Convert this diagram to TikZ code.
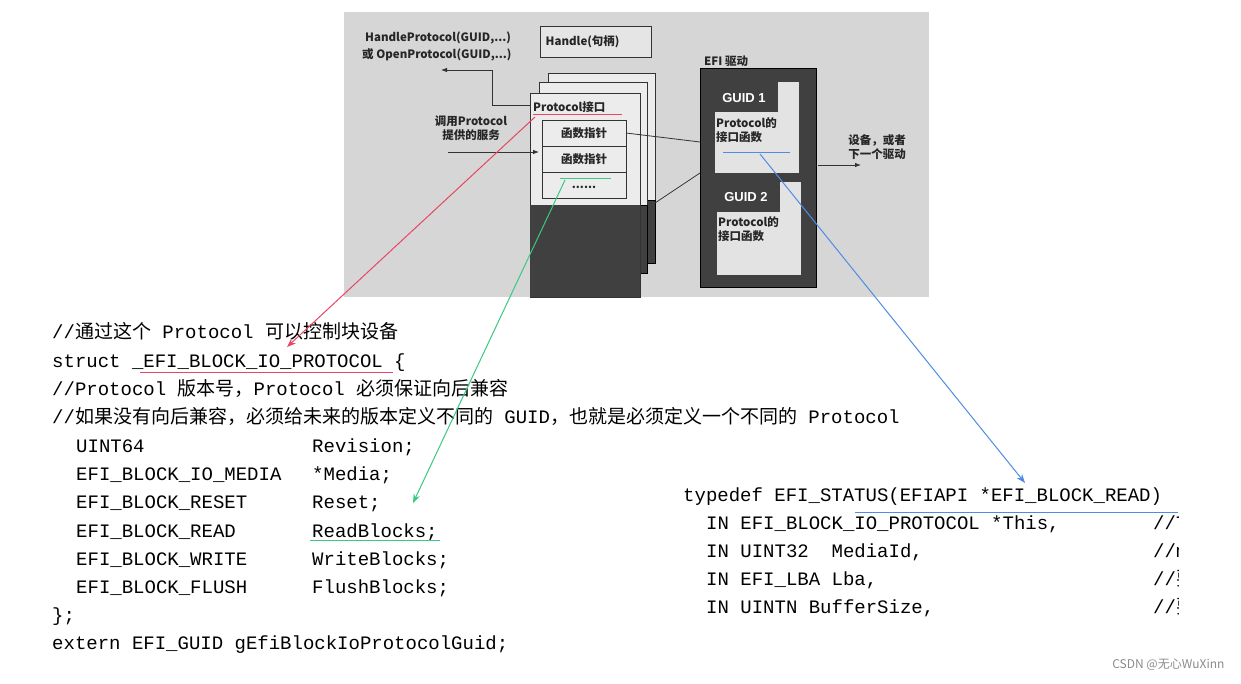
\documentclass[tikz,border=0pt]{standalone}
\usepackage{fontspec}
\setmainfont{Liberation Sans}
\setmonofont{Liberation Mono}
\newfontfamily\cjk{Noto Sans CJK SC}
\usetikzlibrary{arrows.meta}
\begin{document}
\begin{tikzpicture}[x=1pt,y=-1pt,
  code/.style={anchor=base west,inner sep=0pt,font=\fontsize{19}{21}\ttfamily},
  ph/.style={font=\fontsize{11.5}{13.5}\selectfont\bfseries\cjk,inner sep=0pt,align=left,text=black!85},
  card/.style={draw=black!80,fill=gray!15,line width=0.8pt},
  dark/.style={fill=black!75},
  thin/.style={draw=black!80,line width=0.8pt},
  red/.style={draw={rgb,255:red,232;green,70;blue,100},line width=1pt},
  grn/.style={draw={rgb,255:red,60;green,200;blue,130},line width=1pt},
  blu/.style={draw={rgb,255:red,80;green,140;blue,230},line width=1pt}]
\useasboundingbox[fill=white] (0,0) rectangle (1241,683);
% photo
\fill[gray!32] (344,12) rectangle (929,297);
\node[ph,anchor=west] (hp) at (365,38) {HandleProtocol(GUID,...)};
\node[ph,anchor=west] (op) at (362,55) {或 OpenProtocol(GUID,...)};
\node[draw=black!80,fill=gray!20,minimum width=111pt,minimum height=31pt,ph,anchor=north west,text width=100pt] (hd) at (540,26) {Handle(句柄)};
\draw[card] (548,73) rectangle (655,263);
\draw[dark] (548,200) rectangle (655,263);
\draw[card] (539,82) rectangle (647,273);
\draw[dark] (539,205) rectangle (647,273);
\draw[card] (530,93) rectangle (640,297);
\fill[black!75] (530,205) rectangle (640,297);
\node[ph,anchor=west] (pi) at (533,107) {Protocol接口};
\coordinate (pl) at (530,105);
\coordinate (hpend) at (441,70);
\draw[thin,-{Latex[length=6pt]}] (pl) -- (492,105) -- (492,70) -- (hpend);
\draw[thin] (542,120) rectangle (626,198);
\draw[thin] (542,146) -- (626,146) (542,172) -- (626,172);
\node[ph] (f1) at (584,133) {函数指针};
\node[ph] (f2) at (584,159) {函数指针};
\node[ph] (f3) at (584,187) {......};
\node[ph,align=center] (call) at (471,128) {调用Protocol\\提供的服务};
\coordinate (cs) at (448,152);
\draw[thin,-{Latex[length=6pt]}] (cs) -- (539,152);
\node[ph,anchor=west] (efi) at (704,61) {EFI 驱动};
\draw[dark] (700,68) rectangle (816,287);
\fill[gray!22] (715,82) rectangle (799,173);
\fill[black!75] (715,82) rectangle (778,112);
\fill[gray!22] (717,182) rectangle (801,275);
\fill[black!75] (717,182) rectangle (780,212);
\node[ph,text=white,font=\fontsize{13}{15}\selectfont\bfseries] (g1) at (744,98) {GUID 1};
\node[ph,text=white,font=\fontsize{13}{15}\selectfont\bfseries] (g2) at (746,197) {GUID 2};
\node[ph,anchor=west] (p1) at (716,130) {Protocol的\\接口函数};
\node[ph,anchor=west] (p2) at (718,229) {Protocol的\\接口函数};
\draw[thin] (626,133) -- (700,142);
\draw[thin] (655,203) -- (700,173);
\node[ph,align=left] (dev) at (877,147) {设备，或者\\下一个驱动};
\draw[thin,-{Latex[length=6pt]}] (818,165) -- (861,165);
% left code
\node[code] (c1) at (52,338) {//{\cjk 通过这个} Protocol {\cjk 可以控制块设备}};
\node[code] (c2) at (52,367) {struct \_EFI\_BLOCK\_IO\_PROTOCOL \{};
\node[code] (c3) at (52,395) {//Protocol {\cjk 版本号，}Protocol {\cjk 必须保证向后兼容}};
\node[code] (c4) at (52,423) {//{\cjk 如果没有向后兼容，必须给未来的版本定义不同的} GUID{\cjk ，也就是必须定义一个不同的} Protocol};
\foreach \a/\b [count=\i] in {UINT64/Revision;,EFI\_BLOCK\_IO\_MEDIA/*Media;,EFI\_BLOCK\_RESET/Reset;,EFI\_BLOCK\_READ/ReadBlocks;,EFI\_BLOCK\_WRITE/WriteBlocks;,EFI\_BLOCK\_FLUSH/FlushBlocks;}{
  \node[code] (ta\i) at (76,424+28.3*\i) {\a};
  \node[code] (tb\i) at (312,424+28.3*\i) {\b};
}
\node[code] (c11) at (52,621) {\};};
\node[code] (c12) at (52,649) {extern EFI\_GUID gEfiBlockIoProtocolGuid;};
% right code
\begin{scope}
\clip (660,470) rectangle (1178,630);
\node[code] (r1) at (683,501) {typedef EFI\_STATUS(EFIAPI *EFI\_BLOCK\_READ)};
\node[code] (r2) at (706,529) {IN EFI\_BLOCK\_IO\_PROTOCOL *This,};
\node[code] (r3) at (706,557) {IN UINT32\ \ MediaId,};
\node[code] (r4) at (706,585) {IN EFI\_LBA Lba,};
\node[code] (r5) at (706,613) {IN UINTN BufferSize,};
\node[code] (k2) at (1153,529) {//T};
\node[code] (k3) at (1153,557) {//m};
\node[code] (k4) at (1153,585) {//{\cjk 要}};
\node[code] (k5) at (1153,613) {//{\cjk 要}};
\end{scope}
% highlights
\draw[red] (533,114) -- (622,114);
\draw[red] (140,372) -- (393,372);
\draw[red,-{Stealth[length=9pt]}] (535,117) -- (287,347);
\draw[grn] (560,178) -- (611,178);
\draw[grn] (310,540) -- (440,540);
\draw[grn,-{Stealth[length=9pt]}] (565,180) -- (413,503);
\draw[blu] (723,152) -- (790,152);
\draw[blu] (855,512) -- (1178,512);
\draw[blu,-{Stealth[length=9pt]}] (760,154) -- (1025,483);
\node[anchor=east,font=\fontsize{12}{14}\selectfont\cjk,text=black!45] (wm) at (1228,665) {CSDN @无心WuXinn};
\end{tikzpicture}
\end{document}
